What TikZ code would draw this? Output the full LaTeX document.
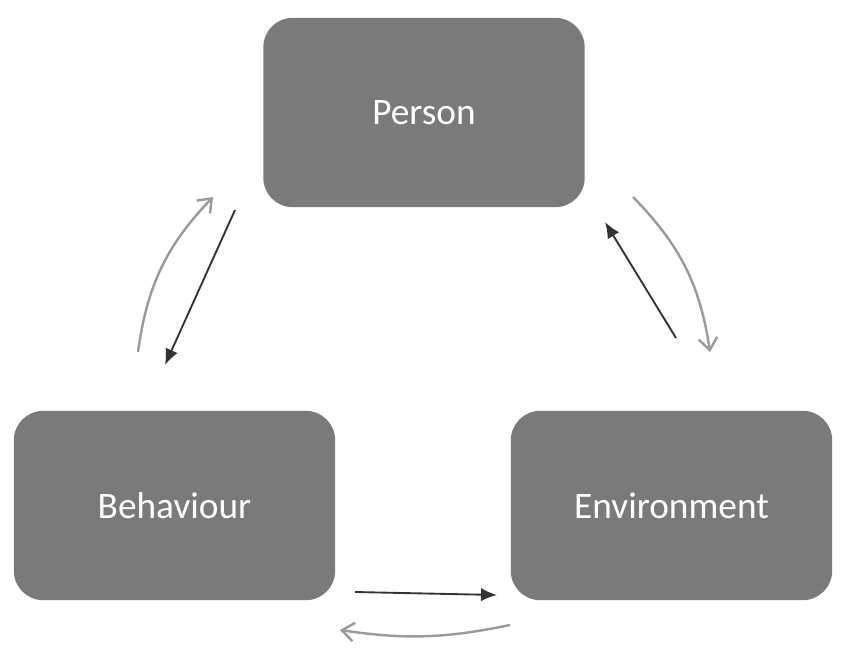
\documentclass[tikz,border=0pt]{standalone}
\usepackage{fontspec}
\setmainfont{Carlito}
\usetikzlibrary{arrows.meta}
\definecolor{boxgray}{HTML}{7A7A7A}
\definecolor{arrgray}{HTML}{9A9A9A}
\definecolor{arrdark}{HTML}{333333}
\begin{document}
\begin{tikzpicture}[x=0.75pt,y=-0.75pt,
  box/.style={draw=none,fill=boxgray,rounded corners=22pt,minimum width=241pt,minimum height=142pt,text=white,font=\fontsize{28}{30}\selectfont},
  darr/.style={draw=arrdark,line width=1.4pt,-{Latex[length=12pt,width=10pt]}},
  garr/.style={draw=arrgray,line width=1.8pt,-{Straight Barb[length=9pt,width=14pt]}}]
\useasboundingbox[fill=white] (0,0) rectangle (850,658);
\node[box] (p) at (424,112.5) {Person};
\node[box] (b) at (174.5,505.5) {Behaviour};
\node[box] (e) at (671.5,505.5) {Environment};
\coordinate (a1) at (235,210); \coordinate (a2) at (165,365);
\coordinate (g1) at (138,352); \coordinate (g2) at (213,197);
\coordinate (a3) at (676,338); \coordinate (a4) at (605,222);
\coordinate (g3) at (633,197); \coordinate (g4) at (710,352);
\coordinate (a5) at (355,592); \coordinate (a6) at (497,595);
\coordinate (g5) at (510,625); \coordinate (g6) at (340,630);
\draw[darr] (a1) -- (a2);
\draw[garr] (g1) to[bend left=18] (g2);
\draw[darr] (a3) -- (a4);
\draw[garr] (g3) to[bend left=18] (g4);
\draw[darr] (a5) -- (a6);
\draw[garr] (g5) to[bend left=10] (g6);
\end{tikzpicture}
\end{document}
